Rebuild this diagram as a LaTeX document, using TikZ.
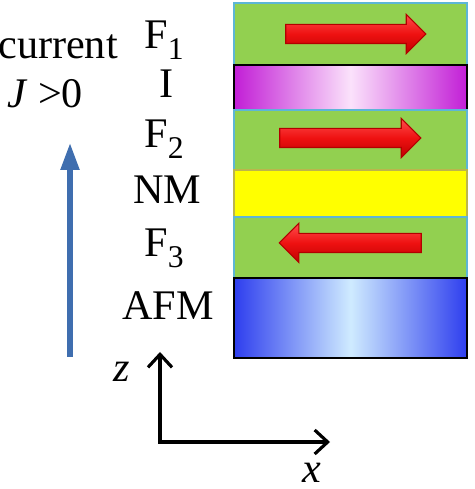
\documentclass[tikz,border=0pt]{standalone}
\usepackage{fontspec}
\setmainfont{Liberation Serif}
\usetikzlibrary{arrows.meta,shapes.arrows}
\definecolor{fgreen}{HTML}{92D050}
\definecolor{fedge}{HTML}{5DB6D6}
\definecolor{imag}{HTML}{C21ED6}
\definecolor{ipale}{HTML}{FBE2FB}
\definecolor{nmyellow}{HTML}{FFFF00}
\definecolor{afmblue}{HTML}{2E3EEE}
\definecolor{afmpale}{HTML}{CFEBFF}
\definecolor{jblue}{HTML}{3F6EAF}
\definecolor{mred}{HTML}{EE1111}
\newcommand{\layersub}[1]{\raisebox{-0.25em}{\small #1}}

\begin{document}
\begin{tikzpicture}[font=\large,
    magnet/.style={single arrow, draw=red!70!black, line width=0.3pt,
      top color=red!70!white, bottom color=red!75!black, middle color=mred,
      inner xsep=0pt, inner ysep=0.09cm, single arrow head extend=0.1cm,
      single arrow head indent=0pt, minimum height=1.40cm},
    lbl/.style={anchor=base}]
    \useasboundingbox (0,0) rectangle (4.74,4.89);
    \draw[fedge, fill=fgreen] (2.34,4.24) rectangle (4.67,4.86);
    \draw[black, line width=0.8pt, left color=imag, right color=imag, middle color=ipale] (2.34,3.79) rectangle (4.67,4.24);
    \draw[fedge, fill=fgreen] (2.34,3.19) rectangle (4.67,3.79);
    \draw[olive!60, fill=nmyellow] (2.34,2.72) rectangle (4.67,3.19);
    \draw[fedge, fill=fgreen] (2.34,2.11) rectangle (4.67,2.72);
    \draw[black, line width=0.8pt, left color=afmblue, right color=afmblue, middle color=afmpale] (2.34,1.31) rectangle (4.67,2.11);
    \node[magnet] (m1) at (3.51,4.55) {};
    \node[magnet, minimum height=1.41cm] (m2) at (3.455,3.51) {};
    \node[magnet, minimum height=1.42cm, shape border rotate=180] (m3) at (3.55,2.46) {};
    \node[lbl] (f1) at (1.64,4.40) {F\layersub{1}};
    \node[lbl] (ins) at (1.67,3.91) {I};
    \node[lbl] (f2) at (1.64,3.41) {F\layersub{2}};
    \node[lbl] (nm) at (1.67,2.85) {NM};
    \node[lbl] (f3) at (1.64,2.32) {F\layersub{3}};
    \node[lbl] (afm) at (1.68,1.69) {AFM};
    \node[lbl] (cur) at (0.58,4.30) {current};
    \node[lbl] (jpos) at (0.45,3.81) {\textit{J} >0};
    \coordinate (jtail) at (0.70,1.32);
    \coordinate (jtip) at (0.70,3.46);
    \draw[jblue, line width=1.5pt, -{Triangle[length=0.27cm,width=0.18cm]}] (jtail) -- (jtip);
    \coordinate (o) at (1.60,0.47);
    \coordinate (zend) at (1.60,1.37);
    \coordinate (xend) at (3.30,0.47);
    \draw[line width=0.9pt, {Straight Barb[length=0.13cm,width=0.24cm]}-{Straight Barb[length=0.13cm,width=0.24cm]}] (zend) -- (o) -- (xend);
    \node (zlbl) at (1.22,1.17) {\textit{z}};
    \node (xlbl) at (3.12,0.16) {\textit{x}};
\end{tikzpicture}
\end{document}
